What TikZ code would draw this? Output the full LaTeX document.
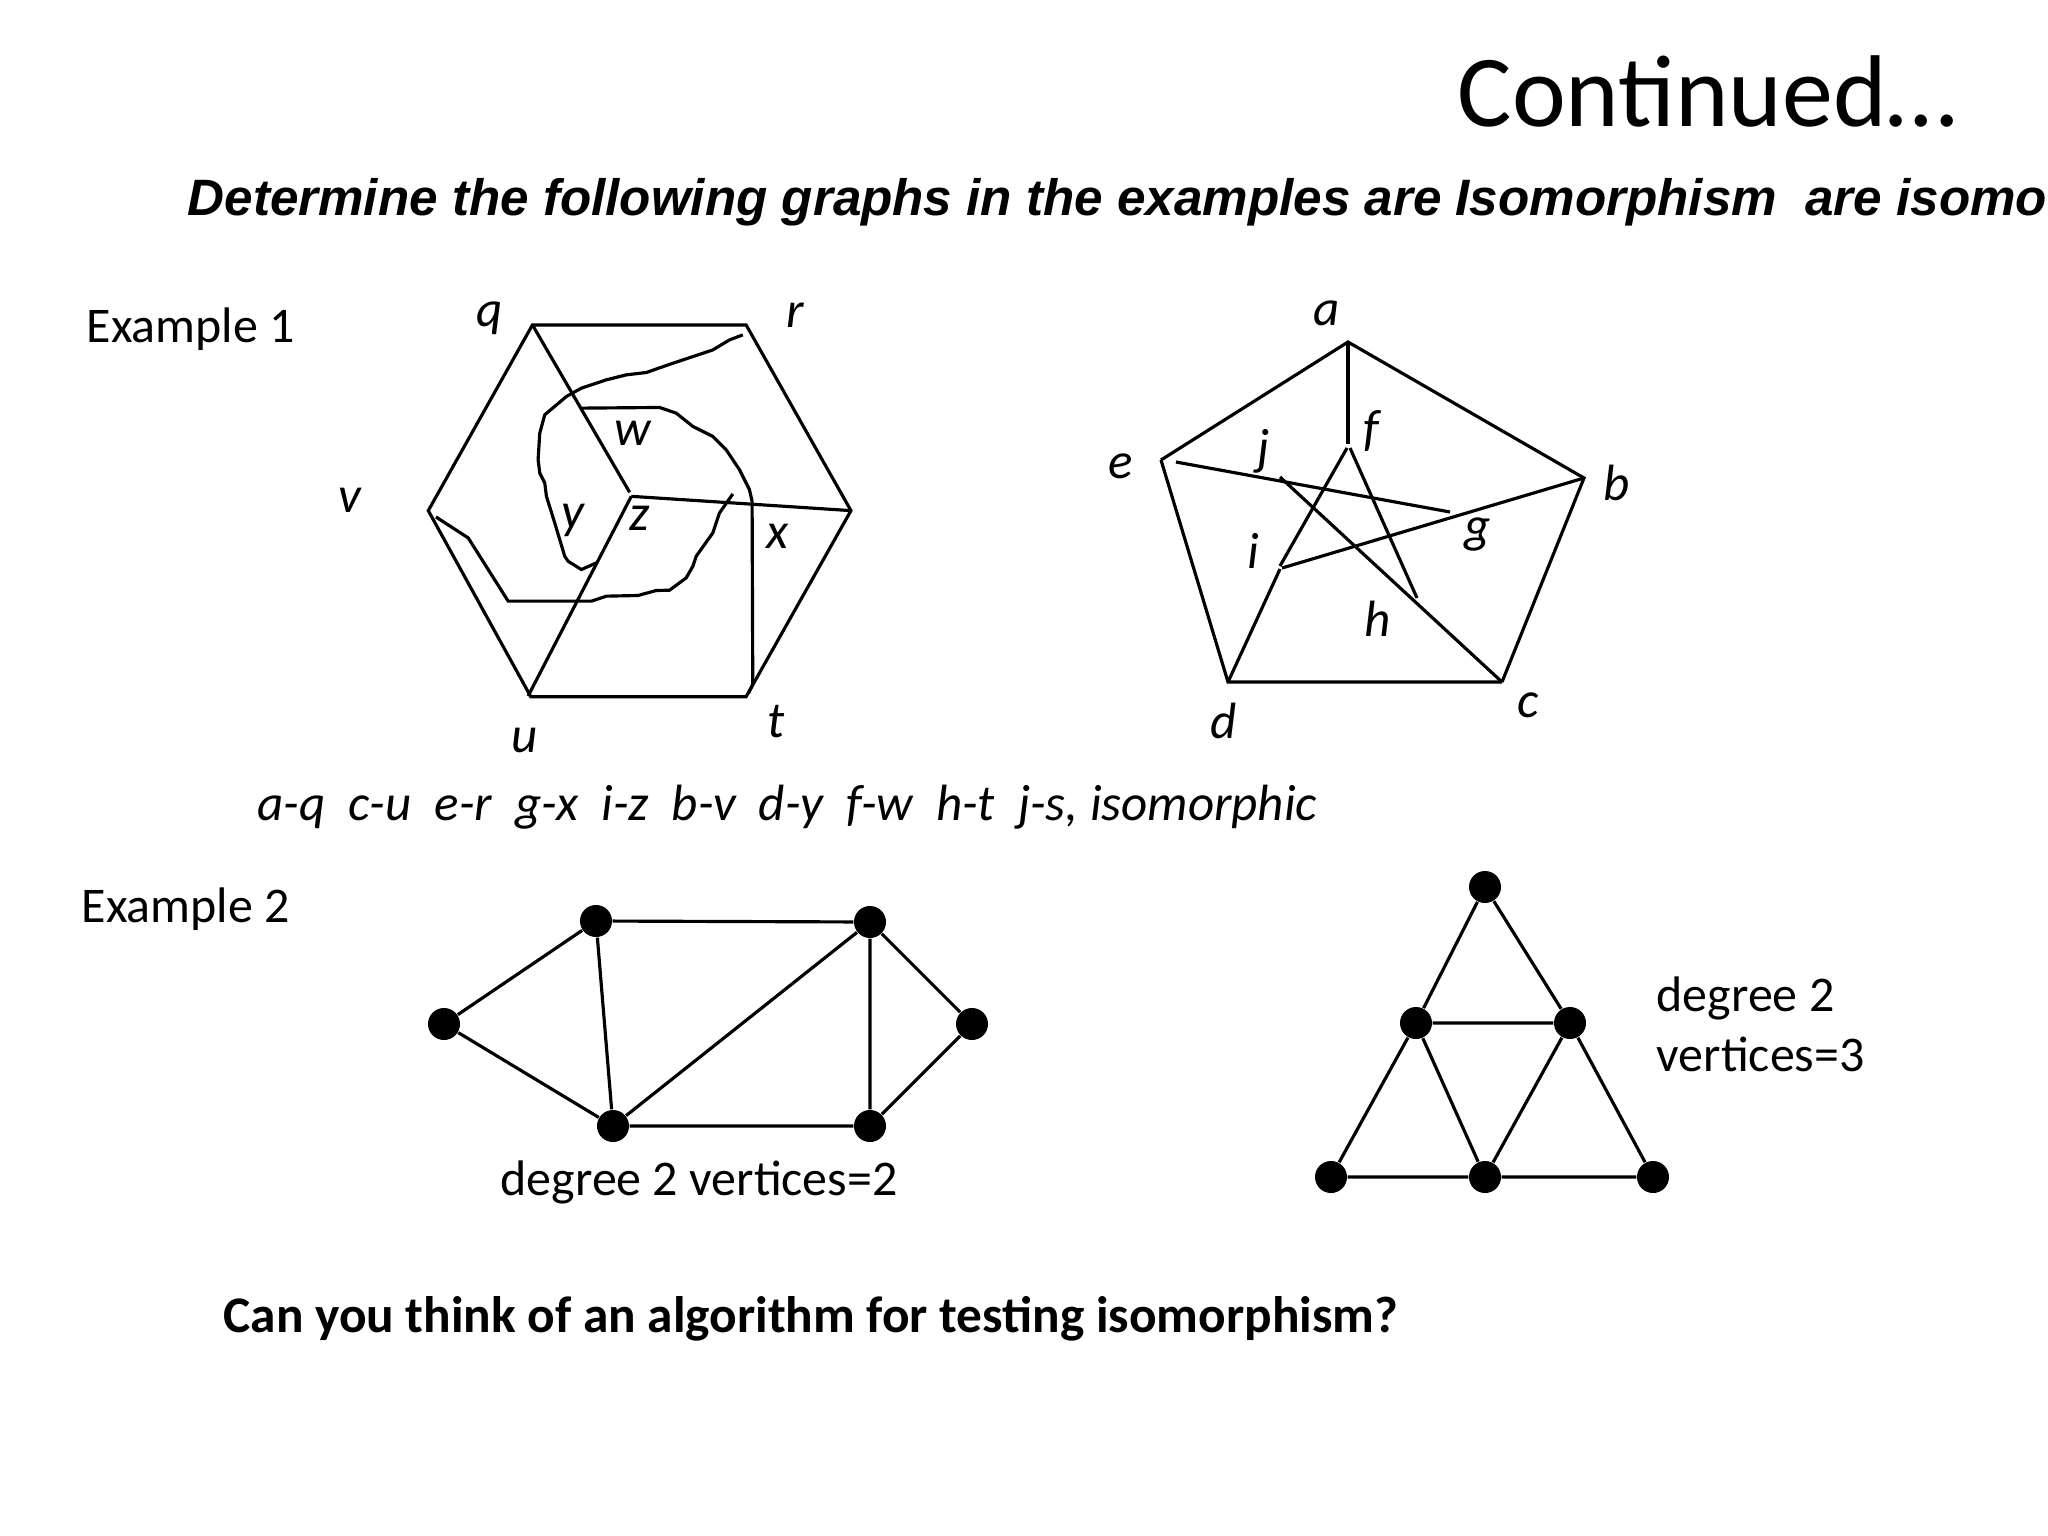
\documentclass[tikz,border=0pt]{standalone}
\usepackage{fontspec}
\setmainfont{Carlito}
\newfontfamily\arialf{Liberation Sans}
\begin{document}
\begin{tikzpicture}[x=0.01cm,y=-0.01cm,
  edge/.style={line width=0.9pt},
  lbl/.style={font=\fontsize{14.5}{16}\selectfont\itshape, inner sep=0pt},
  txt/.style={font=\fontsize{14.2}{17}\selectfont, inner sep=0pt},
  dotv/.style={circle, fill=black, minimum size=0.32cm, inner sep=0pt}]
\useasboundingbox (0,0) rectangle (2048,1536);
\begin{scope}
\clip (0,0) rectangle (2048,1536);
\node[anchor=west, font=\fontsize{29}{34}\selectfont, inner sep=0pt] (title) at (1457,91) {Continued…};
\node[anchor=west, font=\arialf\fontsize{14.55}{17}\selectfont\bfseries\itshape, inner sep=0pt] (sub) at (187,202) {Determine the following graphs in the examples are Isomorphism\ \ are isomorphic?};
\end{scope}
\node[txt, anchor=west] (ex1) at (86,329) {Example 1};
\node[txt, anchor=west] (ex2) at (81,909) {Example 2};
% hexagon graph
\begin{scope}[shift={(400,280)}]
\begin{scope}[x=0.003333cm,y=-0.003333cm]
\coordinate (q) at (398,135); \coordinate (r) at (1040,135);
\coordinate (xr) at (1355,693); \coordinate (t) at (1040,1252);
\coordinate (u) at (393,1252); \coordinate (vl) at (85,693);
\coordinate (z) at (695,650);
\draw[edge] (q)--(r)--(xr)--(t)--(u)--(vl)--cycle;
\draw[edge] (q)--(690,638);
\draw[edge] (z)--(xr);
\draw[edge] (z)--(385,1250);
\draw[edge] (1030,165)--(990,180)--(940,210)--(880,230)--(820,250)--(740,278)--(680,285)--(620,300)--(545,325)--(500,350)--(435,405)--(420,460)--(415,540)--(420,580)--(435,610)--(440,650)--(465,730)--(495,830)--(505,845)--(545,870)--(590,850);
\draw[edge] (108,712)--(205,775)--(325,965)--(575,965)--(620,950)--(715,948)--(770,933)--(810,932)--(860,895)--(880,860)--(890,830)--(940,760)--(960,700)--(1000,643);
\draw[edge] (545,385)--(780,383)--(830,400)--(880,440)--(940,470)--(980,510)--(1020,570)--(1050,630)--(1058,665)--(1060,1215)--(1048,1240);
\end{scope}
\end{scope}
\node[lbl] (lq) at (490,318) {q};
\node[lbl] (lr) at (795,315) {r};
\node[lbl] (lw) at (633,433) {w};
\node[lbl] (ly) at (573,520) {y};
\node[lbl] (lz) at (640,518) {z};
\node[lbl] (lx) at (778,536) {x};
\node[lbl] (lv) at (350,500) {v};
\node[lbl] (lu) at (525,740) {u};
\node[lbl] (lt) at (776,722) {t};
% pentagon graph
\coordinate (a) at (1348,342); \coordinate (b) at (1584,478);
\coordinate (c) at (1502,682); \coordinate (d) at (1228,682);
\coordinate (e) at (1161,460);
\coordinate (f) at (1348,444); \coordinate (j) at (1280,477);
\coordinate (g) at (1450,512); \coordinate (i) at (1280,566);
\coordinate (h) at (1417,598);
\draw[edge] (e)--(a)--(b)--(c);
\draw[edge] (c)--(d)--(e);
\draw[edge] (a)--(f);
\draw[edge] (1176,462)--(g);
\draw[edge] (j)--(c);
\draw[edge] (1347,448)--(i);
\draw[edge] (1350,448)--(h);
\draw[edge] (1282,568)--(b);
\draw[edge] (1280,569)--(d);
\node[lbl] (la) at (1327,313) {a};
\node[lbl] (lb) at (1617,483) {b};
\node[lbl] (lc) at (1528,705) {c};
\node[lbl] (ld) at (1224,721) {d};
\node[lbl] (le) at (1121,466) {e};
\node[lbl] (lf) at (1371,431) {f};
\node[lbl] (lj) at (1264,451) {j};
\node[lbl] (lg) at (1478,535) {g};
\node[lbl] (li) at (1253,551) {i};
\node[lbl] (lh) at (1378,619) {h};
\node[lbl, anchor=west] (map) at (257,807) {a-q\ \ c-u\ \ e-r\ \ g-x\ \ i-z\ \ b-v\ \ d-y\ \ f-w\ \ h-t\ \ j-s, isomorphic};
% example 2 left
\node[dotv] (A) at (444,1024) {};
\node[dotv] (B) at (596,921) {};
\node[dotv] (C) at (870,922) {};
\node[dotv] (D) at (972,1024) {};
\node[dotv] (E) at (613,1126) {};
\node[dotv] (F) at (870,1126) {};
\draw[edge] (A)--(B) (A)--(E) (B)--(C) (B)--(E) (C)--(E) (C)--(F) (C)--(D) (D)--(F) (E)--(F);
\node[txt] (deg1) at (699,1182) {degree 2 vertices=2};
% triangle
\node[dotv] (T) at (1485,887) {};
\node[dotv] (ML) at (1416,1023) {};
\node[dotv] (MR) at (1570,1023) {};
\node[dotv] (BL) at (1331,1177) {};
\node[dotv] (BM) at (1485,1177) {};
\node[dotv] (BR) at (1653,1177) {};
\draw[edge] (T)--(ML) (T)--(MR) (ML)--(MR) (ML)--(BL) (ML)--(BM) (MR)--(BM) (MR)--(BR) (BL)--(BM) (BM)--(BR);
\node[txt, anchor=west, align=left] (deg2) at (1656,1024) {degree 2\\vertices=3};
\node[txt, anchor=west, font=\fontsize{14.6}{17}\selectfont\bfseries] (q2) at (223,1319) {Can you think of an algorithm for testing isomorphism?};
\end{tikzpicture}
\end{document}
